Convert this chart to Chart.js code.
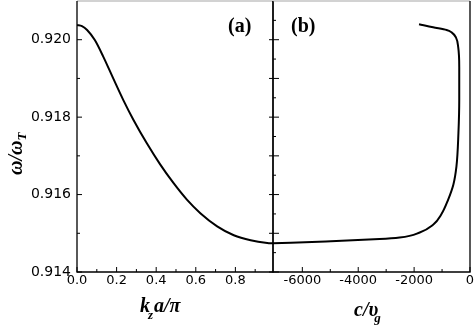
<!DOCTYPE html>
<html>
<head>
<meta charset="utf-8">
<script src="https://cdn.jsdelivr.net/npm/chart.js@4.4.1/dist/chart.umd.min.js"></script>
<style>
  html, body { margin: 0; padding: 0; background: #fff; }
  #wrap { position: relative; width: 474px; height: 327px; overflow: hidden; }
  #wrap canvas { position: absolute; left: 0; top: 0; }
</style>
</head>
<body>
<div id="wrap">
  <canvas id="panelA" width="474" height="327"></canvas>
  <canvas id="panelB" width="474" height="327"></canvas>
</div>
<script>
// panel (a): w/wT against kz a/pi
const kza = [0, 0.025, 0.051, 0.090, 0.132, 0.183, 0.234, 0.284, 0.352, 0.420, 0.487, 0.555, 0.623, 0.708, 0.792, 0.877, 0.961, 0.99];
const omegaA = [0.92038, 0.92035, 0.92025, 0.91999, 0.91957, 0.91900, 0.91844, 0.91794, 0.91733, 0.91678, 0.91630, 0.91587, 0.91552, 0.91518, 0.91495, 0.91482, 0.91475, 0.91474];

// panel (b): same band against c/vg
const cvg = [-1824, -1320, -838, -658, -504, -421, -385, -385, -414, -486, -594, -781, -1025, -1320, -1799, -2518, -3237, -5154, -7050];
const omegaB = [0.92040, 0.92032, 0.92025, 0.92019, 0.92006, 0.91980, 0.91929, 0.91844, 0.91759, 0.91672, 0.91626, 0.91587, 0.91549, 0.91522, 0.91502, 0.91489, 0.91485, 0.91479, 0.91474];

// ticks
const kTicks = [0, 0.2, 0.4, 0.6, 0.8];
const kMinor = [0.1, 0.3, 0.5, 0.7, 0.9];
const cTicks = [-6000, -4000, -2000, 0];
const cMinor = [-5000, -3000, -1000];
const wTicks = [0.914, 0.916, 0.918, 0.920];
const wMinor = [0.915, 0.917, 0.919];
const wTicksB = [0.914, 0.915, 0.916, 0.917, 0.918, 0.919, 0.920];
const wMinorB = [0.9145, 0.9155, 0.9165, 0.9175, 0.9185, 0.9195, 0.9205];

const serif = '"Liberation Serif", "Times New Roman", serif';

// axis frame + inward ticks
const frame = {
  id: 'frame',
  afterDatasetsDraw(chart, args, o) {
    const { ctx, chartArea: a, scales } = chart;
    ctx.save();
    ctx.fillStyle = '#d2d2d2';
    ctx.fillRect(a.left, 0, a.right - a.left, 2);
    ctx.strokeStyle = '#000';
    ctx.lineWidth = 1.3;
    ctx.beginPath();
    ctx.moveTo(a.left, a.top);
    ctx.lineTo(a.left, a.bottom);
    ctx.lineTo(a.right, a.bottom);
    ctx.lineTo(a.right, a.top);
    ctx.stroke();
    ctx.lineWidth = 1;
    ctx.beginPath();
    const xt = (vals, len) => vals.forEach(v => {
      const px = scales.x.getPixelForValue(v);
      ctx.moveTo(px, a.bottom);
      ctx.lineTo(px, a.bottom - len);
    });
    const yt = (vals, x0, len) => vals.forEach(v => {
      const py = scales.y.getPixelForValue(v);
      ctx.moveTo(x0, py);
      ctx.lineTo(x0 + len, py);
    });
    xt(o.xMajor, 5);
    xt(o.xMinor, 3);
    yt(o.yMajor, a.left, o.yLen);
    yt(o.yMinor, a.left, 3);
    if (o.yBack) yt(o.yBack, a.right, -4);
    ctx.stroke();
    ctx.restore();
  }
};

// draws runs of text, each run may be shifted down (subscript)
function rich(ctx, x, y, parts) {
  let cx = x;
  parts.forEach(p => {
    ctx.font = p.font;
    ctx.fillText(p.t, cx, y + (p.dy || 0));
    cx += ctx.measureText(p.t).width + (p.kern || 0);
  });
}

const labels = {
  id: 'labels',
  afterDraw(chart, args, o) {
    const ctx = chart.ctx;
    const bi = 'italic bold 20px ' + serif;
    const sub = 'italic bold 13px ' + serif;
    ctx.save();
    ctx.fillStyle = '#000';
    ctx.textBaseline = 'alphabetic';
    ctx.textAlign = 'left';
    ctx.font = 'bold 20px ' + serif;
    ctx.fillText(o.panel, o.panelX, 32);
    if (o.which === 'a') {
      rich(ctx, 140, 312, [
        { t: 'k', font: bi, kern: -2 },
        { t: 'z', font: sub, dy: 7, kern: 1 },
        { t: 'a/π', font: bi }
      ]);
      ctx.save();
      ctx.translate(21.5, 175);
      ctx.rotate(-Math.PI / 2);
      rich(ctx, 0, 0, [
        { t: 'ω/ω', font: bi },
        { t: 'T', font: sub, dy: 4 }
      ]);
      ctx.restore();
    } else {
      rich(ctx, 354, 316, [
        { t: 'c/υ', font: bi, kern: -4 },
        { t: 'g', font: sub, dy: 6 }
      ]);
    }
    ctx.restore();
  }
};

function lineSet(xs, ys) {
  return {
    data: xs.map((x, i) => ({ x: x, y: ys[i] })),
    borderColor: '#000',
    borderWidth: 2,
    pointRadius: 0,
    cubicInterpolationMode: 'monotone',
    fill: false
  };
}

function xScale(min, max, ticks, fmt) {
  return {
    type: 'linear', min: min, max: max,
    grid: { display: false, drawTicks: false },
    border: { display: false },
    afterBuildTicks: s => { s.ticks = ticks.map(v => ({ value: v })); },
    afterFit: s => { s.height = 55; s.paddingLeft = 0; s.paddingRight = 0; },
    ticks: {
      font: { family: 'DejaVu Sans', size: 13 }, color: '#000', padding: 1,
      maxRotation: 0, autoSkip: false, callback: fmt
    }
  };
}

const common = {
  responsive: false,
  animation: false,
  devicePixelRatio: 1
};

new Chart(document.getElementById('panelA'), {
  type: 'line',
  data: { datasets: [lineSet(kza, omegaA)] },
  options: Object.assign({}, common, {
    layout: { padding: { left: 0, right: 201, top: 1, bottom: 0 } },
    plugins: {
      legend: { display: false }, tooltip: { enabled: false },
      frame: { xMajor: kTicks, xMinor: kMinor, yMajor: wTicks, yMinor: wMinor, yLen: 5, yBack: wTicksB },
      labels: { which: 'a', panel: '(a)', panelX: 228 }
    },
    scales: {
      x: xScale(0, 0.99, kTicks, v => v.toFixed(1)),
      y: {
        type: 'linear', min: 0.914, max: 0.921,
        grid: { display: false, drawTicks: false },
        border: { display: false },
        afterBuildTicks: s => { s.ticks = wTicks.map(v => ({ value: v })); },
        afterFit: s => { s.width = 77; s.paddingTop = 0; s.paddingBottom = 0; },
        ticks: { font: { family: 'DejaVu Sans', size: 14 }, color: '#000', padding: 6, callback: v => v.toFixed(3) }
      }
    }
  }),
  plugins: [frame, labels]
});

// omega falls steadily along the curve, so it is the index axis here
new Chart(document.getElementById('panelB'), {
  type: 'line',
  data: { datasets: [lineSet(cvg, omegaB)] },
  options: Object.assign({}, common, {
    indexAxis: 'y',
    layout: { padding: { left: 273, right: 4, top: 1, bottom: 0 } },
    plugins: {
      legend: { display: false }, tooltip: { enabled: false },
      frame: { xMajor: cTicks, xMinor: cMinor, yMajor: wTicksB, yMinor: wMinorB, yLen: 6 },
      labels: { which: 'b', panel: '(b)', panelX: 291 }
    },
    scales: {
      x: xScale(-7050, 0, cTicks, v => String(v)),
      y: { type: 'linear', display: false, min: 0.914, max: 0.921 }
    }
  }),
  plugins: [frame, labels]
});
</script>
</body>
</html>
